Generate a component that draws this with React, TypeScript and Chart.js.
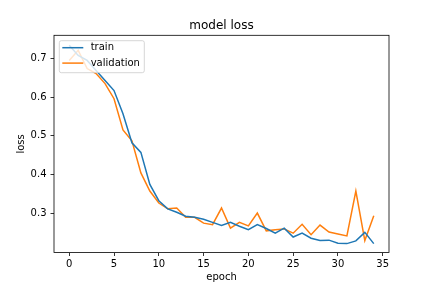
import React, { useEffect, useRef } from "react";
import { Chart, registerables } from "chart.js";

Chart.register(...registerables);

const EPOCHS = [0,1,2,3,4,5,6,7,8,9,10,11,12,13,14,15,16,17,18,19,20,21,22,23,24,25,26,27,28,29,30,31,32,33,34];
const TRAIN = [0.734,0.708,0.695,0.669,0.643,0.617,0.557,0.482,0.457,0.374,0.332,0.311,0.302,0.292,0.289,0.284,0.276,0.268,0.276,0.266,0.257,0.27,0.26,0.248,0.261,0.238,0.248,0.235,0.229,0.23,0.222,0.221,0.228,0.25,0.221];
const VALIDATION = [0.695,0.721,0.674,0.661,0.635,0.596,0.515,0.487,0.404,0.357,0.326,0.311,0.313,0.289,0.289,0.274,0.27,0.313,0.261,0.276,0.267,0.30,0.254,0.257,0.259,0.248,0.271,0.244,0.269,0.251,0.246,0.241,0.357,0.229,0.293];
const X_TICKS = [0,5,10,15,20,25,30,35];
const Y_TICKS = [0.3,0.4,0.5,0.6,0.7];
const SERIES_NAMES = ["train", "validation"];
const COLORS = ["#1f77b4", "#ff7f0e"];
const TITLE = "model loss";
const X_LABEL = "epoch";
const Y_LABEL = "loss";

const FONT = "'DejaVu Sans', sans-serif";

const framePlugin = {
  id: "frameAndLegend",
  afterDatasetsDraw(chart: any) {
    const { ctx, chartArea } = chart;
    const { left, top, right, bottom } = chartArea;
    ctx.save();
    // spines
    ctx.strokeStyle = "#000";
    ctx.lineWidth = 0.8;
    ctx.strokeRect(left, top, right - left, bottom - top);
    // legend box
    const bx = left + 5.3;
    const by = top + 5.4;
    const bw = 85;
    const bh = 32;
    const r = 2;
    ctx.beginPath();
    ctx.moveTo(bx + r, by);
    ctx.lineTo(bx + bw - r, by);
    ctx.quadraticCurveTo(bx + bw, by, bx + bw, by + r);
    ctx.lineTo(bx + bw, by + bh - r);
    ctx.quadraticCurveTo(bx + bw, by + bh, bx + bw - r, by + bh);
    ctx.lineTo(bx + r, by + bh);
    ctx.quadraticCurveTo(bx, by + bh, bx, by + bh - r);
    ctx.lineTo(bx, by + r);
    ctx.quadraticCurveTo(bx, by, bx + r, by);
    ctx.closePath();
    ctx.fillStyle = "rgba(255,255,255,0.8)";
    ctx.fill();
    ctx.strokeStyle = "rgba(204,204,204,0.8)";
    ctx.lineWidth = 1;
    ctx.stroke();
    ctx.font = `10px ${FONT}`;
    ctx.textBaseline = "middle";
    ctx.textAlign = "left";
    SERIES_NAMES.forEach((name, i) => {
      const ly = by + 7 + i * 15.4;
      ctx.strokeStyle = COLORS[i];
      ctx.lineWidth = 1.5;
      ctx.beginPath();
      ctx.moveTo(bx + 3, ly);
      ctx.lineTo(bx + 24, ly);
      ctx.stroke();
      ctx.fillStyle = "#000";
      ctx.fillText(name, bx + 31.4, ly);
    });
    ctx.restore();
  },
};

export default function App() {
  const ref = useRef<HTMLCanvasElement | null>(null);
  useEffect(() => {
    document.body.style.margin = "0";
    const canvas = ref.current;
    if (!canvas) return;
    const mk = (arr: number[]) => arr.map((v, i) => ({ x: EPOCHS[i], y: v }));
    const chart = new Chart(canvas, {
      type: "line",
      data: {
        datasets: [
          {
            label: SERIES_NAMES[0],
            data: mk(TRAIN),
            borderColor: COLORS[0],
            backgroundColor: COLORS[0],
            borderWidth: 1.5,
            pointRadius: 0,
            tension: 0,
            fill: false,
          },
          {
            label: SERIES_NAMES[1],
            data: mk(VALIDATION),
            borderColor: COLORS[1],
            backgroundColor: COLORS[1],
            borderWidth: 1.5,
            pointRadius: 0,
            tension: 0,
            fill: false,
          },
        ],
      },
      options: {
        responsive: false,
        animation: false,
        devicePixelRatio: 1,
        layout: { padding: { top: 0, left: 0, right: 43, bottom: 0 } },
        plugins: {
          legend: { display: false },
          tooltip: { enabled: false },
          title: {
            display: true,
            fullSize: false,
            text: TITLE,
            color: "#000",
            font: { family: FONT, size: 12, weight: "normal" },
            padding: { top: 18.3, bottom: 2.6 },
          },
        },
        scales: {
          x: {
            type: "linear",
            min: -1.7,
            max: 35.7,
            afterBuildTicks: (s: any) => {
              s.ticks = X_TICKS.map((v) => ({ value: v }));
            },
            afterFit: (s: any) => {
              s.height = 35.5;
            },
            grid: {
              drawOnChartArea: false,
              drawTicks: true,
              tickLength: 3.5,
              color: "#000",
              lineWidth: 0.8,
            },
            border: { display: false },
            ticks: {
              color: "#000",
              font: { family: FONT, size: 10 },
              padding: 2,
              maxRotation: 0,
              autoSkip: false,
            },
            title: {
              display: true,
              text: X_LABEL,
              color: "#000",
              font: { family: FONT, size: 10 },
              padding: { top: 0, bottom: 4.7 },
            },
          },
          y: {
            type: "linear",
            min: 0.198,
            max: 0.76,
            afterBuildTicks: (s: any) => {
              s.ticks = Y_TICKS.map((v) => ({ value: v }));
            },
            afterFit: (s: any) => {
              s.width = 54;
            },
            grid: {
              drawOnChartArea: false,
              drawTicks: true,
              tickLength: 3.5,
              color: "#000",
              lineWidth: 0.8,
            },
            border: { display: false },
            ticks: {
              color: "#000",
              font: { family: FONT, size: 10 },
              padding: 4,
              callback: (v: any) => Number(v).toFixed(1),
            },
            title: {
              display: true,
              text: Y_LABEL,
              color: "#000",
              font: { family: FONT, size: 10 },
              padding: { top: 15, bottom: 0 },
            },
          },
        },
      },
      plugins: [framePlugin],
    });
    return () => chart.destroy();
  }, []);
  return <canvas ref={ref} width={432} height={288} style={{ display: "block" }} />;
}
